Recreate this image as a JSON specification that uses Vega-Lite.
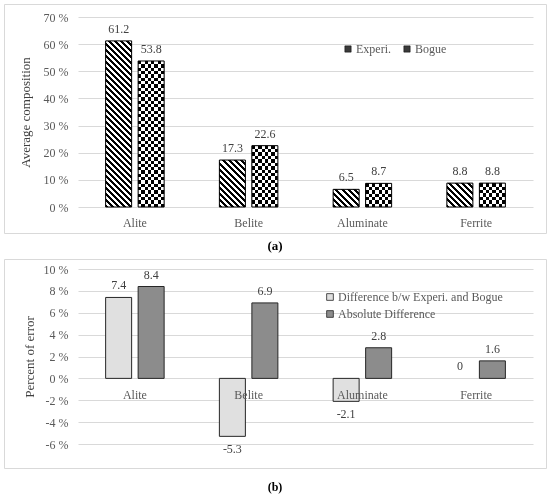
{
"$schema":"https://vega.github.io/schema/vega-lite/v6.json",
"padding":{"left":3,"top":3,"right":5,"bottom":0},
"spacing":4,
"resolve":{"scale":{"xOffset":"independent","fill":"independent","y":"independent"},"legend":{"fill":"independent"}},
"datasets":{
"comp":[
{"mineral":"Alite","series":"Experi.","value":61.2},
{"mineral":"Alite","series":"Bogue","value":53.8},
{"mineral":"Belite","series":"Experi.","value":17.3},
{"mineral":"Belite","series":"Bogue","value":22.6},
{"mineral":"Aluminate","series":"Experi.","value":6.5},
{"mineral":"Aluminate","series":"Bogue","value":8.7},
{"mineral":"Ferrite","series":"Experi.","value":8.8},
{"mineral":"Ferrite","series":"Bogue","value":8.8}
],
"err":[
{"mineral":"Alite","series":"Difference b/w Experi. and Bogue","value":7.4},
{"mineral":"Alite","series":"Absolute Difference","value":8.4},
{"mineral":"Belite","series":"Difference b/w Experi. and Bogue","value":-5.3},
{"mineral":"Belite","series":"Absolute Difference","value":6.9},
{"mineral":"Aluminate","series":"Difference b/w Experi. and Bogue","value":-2.1},
{"mineral":"Aluminate","series":"Absolute Difference","value":2.8},
{"mineral":"Ferrite","series":"Difference b/w Experi. and Bogue","value":0},
{"mineral":"Ferrite","series":"Absolute Difference","value":1.6}
]
},
"vconcat":[
{
"width":542,"height":229,
"data":{"name":"comp"},
"title":{"text":"(a)","orient":"bottom","offset":7,"fontSize":13,"font":"Liberation Serif","fontWeight":"bold","color":"#000000","anchor":"middle"},
"encoding":{
"x":{"field":"mineral","type":"nominal","scale":{"domain":["Alite","Belite","Aluminate","Ferrite"],"range":[74,529],"paddingInner":0,"paddingOuter":0},"axis":{"title":null,"offset":-26,"labelPadding":10,"domain":false,"ticks":false,"labelAngle":0}},
"xOffset":{"field":"series","type":"nominal","scale":{"domain":["Experi.","Bogue"],"paddingInner":0.2,"paddingOuter":0.85}},
"y":{"field":"value","type":"quantitative","scale":{"domain":[0,70],"range":[203,13],"nice":false},"axis":{"title":"Average composition","values":[0,10,20,30,40,50,60,70],"labelExpr":"datum.value + ' %'","grid":true,"domain":false,"ticks":false,"offset":-74,"labelPadding":10,"titlePadding":11}}
},
"layer":[
{"mark":{"type":"bar"},"encoding":{"fill":{"field":"series","type":"nominal","scale":{"domain":["Experi.","Bogue"],"range":["#3a3a3a","#3a3a3a"]},"legend":{"title":null,"orient":"none","legendX":338,"legendY":39,"direction":"horizontal","symbolType":"square","symbolSize":40,"columnPadding":10,"labelOffset":2,"symbolStrokeColor":"#000000","symbolStrokeWidth":0.5}}}},
{"transform":[{"filter":"datum.series==='Experi.' && datum.mineral==='Alite'"}],
"mark":{"type":"bar","fill":{"gradient":"linear","x1":0,"y1":1,"x2":0.1767,"y2":-0.1289,"stops":[
{"offset":0,"color":"#000"},{"offset":0.0156,"color":"#000"},{"offset":0.0156,"color":"#fff"},{"offset":0.0313,"color":"#fff"},{"offset":0.0313,"color":"#000"},{"offset":0.0469,"color":"#000"},{"offset":0.0469,"color":"#fff"},{"offset":0.0625,"color":"#fff"},{"offset":0.0625,"color":"#000"},{"offset":0.0781,"color":"#000"},{"offset":0.0781,"color":"#fff"},{"offset":0.0938,"color":"#fff"},{"offset":0.0938,"color":"#000"},{"offset":0.1094,"color":"#000"},{"offset":0.1094,"color":"#fff"},{"offset":0.125,"color":"#fff"},{"offset":0.125,"color":"#000"},{"offset":0.1406,"color":"#000"},{"offset":0.1406,"color":"#fff"},{"offset":0.1563,"color":"#fff"},{"offset":0.1563,"color":"#000"},{"offset":0.1719,"color":"#000"},{"offset":0.1719,"color":"#fff"},{"offset":0.1875,"color":"#fff"},{"offset":0.1875,"color":"#000"},{"offset":0.2031,"color":"#000"},{"offset":0.2031,"color":"#fff"},{"offset":0.2188,"color":"#fff"},{"offset":0.2188,"color":"#000"},{"offset":0.2344,"color":"#000"},{"offset":0.2344,"color":"#fff"},{"offset":0.25,"color":"#fff"},{"offset":0.25,"color":"#000"},{"offset":0.2656,"color":"#000"},{"offset":0.2656,"color":"#fff"},{"offset":0.2813,"color":"#fff"},{"offset":0.2813,"color":"#000"},{"offset":0.2969,"color":"#000"},{"offset":0.2969,"color":"#fff"},{"offset":0.3125,"color":"#fff"},{"offset":0.3125,"color":"#000"},{"offset":0.3281,"color":"#000"},{"offset":0.3281,"color":"#fff"},{"offset":0.3438,"color":"#fff"},{"offset":0.3438,"color":"#000"},{"offset":0.3594,"color":"#000"},{"offset":0.3594,"color":"#fff"},{"offset":0.375,"color":"#fff"},{"offset":0.375,"color":"#000"},{"offset":0.3906,"color":"#000"},{"offset":0.3906,"color":"#fff"},{"offset":0.4063,"color":"#fff"},{"offset":0.4063,"color":"#000"},{"offset":0.4219,"color":"#000"},{"offset":0.4219,"color":"#fff"},{"offset":0.4375,"color":"#fff"},{"offset":0.4375,"color":"#000"},{"offset":0.4531,"color":"#000"},{"offset":0.4531,"color":"#fff"},{"offset":0.4688,"color":"#fff"},{"offset":0.4688,"color":"#000"},{"offset":0.4844,"color":"#000"},{"offset":0.4844,"color":"#fff"},{"offset":0.5,"color":"#fff"},{"offset":0.5,"color":"#000"},{"offset":0.5156,"color":"#000"},{"offset":0.5156,"color":"#fff"},{"offset":0.5313,"color":"#fff"},{"offset":0.5313,"color":"#000"},{"offset":0.5469,"color":"#000"},{"offset":0.5469,"color":"#fff"},{"offset":0.5625,"color":"#fff"},{"offset":0.5625,"color":"#000"},{"offset":0.5781,"color":"#000"},{"offset":0.5781,"color":"#fff"},{"offset":0.5938,"color":"#fff"},{"offset":0.5938,"color":"#000"},{"offset":0.6094,"color":"#000"},{"offset":0.6094,"color":"#fff"},{"offset":0.625,"color":"#fff"},{"offset":0.625,"color":"#000"},{"offset":0.6406,"color":"#000"},{"offset":0.6406,"color":"#fff"},{"offset":0.6563,"color":"#fff"},{"offset":0.6563,"color":"#000"},{"offset":0.6719,"color":"#000"},{"offset":0.6719,"color":"#fff"},{"offset":0.6875,"color":"#fff"},{"offset":0.6875,"color":"#000"},{"offset":0.7031,"color":"#000"},{"offset":0.7031,"color":"#fff"},{"offset":0.7188,"color":"#fff"},{"offset":0.7188,"color":"#000"},{"offset":0.7344,"color":"#000"},{"offset":0.7344,"color":"#fff"},{"offset":0.75,"color":"#fff"},{"offset":0.75,"color":"#000"},{"offset":0.7656,"color":"#000"},{"offset":0.7656,"color":"#fff"},{"offset":0.7813,"color":"#fff"},{"offset":0.7813,"color":"#000"},{"offset":0.7969,"color":"#000"},{"offset":0.7969,"color":"#fff"},{"offset":0.8125,"color":"#fff"},{"offset":0.8125,"color":"#000"},{"offset":0.8281,"color":"#000"},{"offset":0.8281,"color":"#fff"},{"offset":0.8438,"color":"#fff"},{"offset":0.8438,"color":"#000"},{"offset":0.8594,"color":"#000"},{"offset":0.8594,"color":"#fff"},{"offset":0.875,"color":"#fff"},{"offset":0.875,"color":"#000"},{"offset":0.8906,"color":"#000"},{"offset":0.8906,"color":"#fff"},{"offset":0.9063,"color":"#fff"},{"offset":0.9063,"color":"#000"},{"offset":0.9219,"color":"#000"},{"offset":0.9219,"color":"#fff"},{"offset":0.9375,"color":"#fff"},{"offset":0.9375,"color":"#000"},{"offset":0.9531,"color":"#000"},{"offset":0.9531,"color":"#fff"},{"offset":0.9688,"color":"#fff"},{"offset":0.9688,"color":"#000"},{"offset":0.9844,"color":"#000"},{"offset":0.9844,"color":"#fff"},{"offset":1,"color":"#fff"}]}}},
{"transform":[{"filter":"datum.series==='Experi.' && datum.mineral==='Belite'"}],
"mark":{"type":"bar","fill":{"gradient":"linear","x1":0,"y1":1,"x2":0.6584,"y2":-0.1892,"stops":[
{"offset":0,"color":"#000"},{"offset":0.0417,"color":"#000"},{"offset":0.0417,"color":"#fff"},{"offset":0.0833,"color":"#fff"},{"offset":0.0833,"color":"#000"},{"offset":0.125,"color":"#000"},{"offset":0.125,"color":"#fff"},{"offset":0.1667,"color":"#fff"},{"offset":0.1667,"color":"#000"},{"offset":0.2083,"color":"#000"},{"offset":0.2083,"color":"#fff"},{"offset":0.25,"color":"#fff"},{"offset":0.25,"color":"#000"},{"offset":0.2917,"color":"#000"},{"offset":0.2917,"color":"#fff"},{"offset":0.3333,"color":"#fff"},{"offset":0.3333,"color":"#000"},{"offset":0.375,"color":"#000"},{"offset":0.375,"color":"#fff"},{"offset":0.4167,"color":"#fff"},{"offset":0.4167,"color":"#000"},{"offset":0.4583,"color":"#000"},{"offset":0.4583,"color":"#fff"},{"offset":0.5,"color":"#fff"},{"offset":0.5,"color":"#000"},{"offset":0.5417,"color":"#000"},{"offset":0.5417,"color":"#fff"},{"offset":0.5833,"color":"#fff"},{"offset":0.5833,"color":"#000"},{"offset":0.625,"color":"#000"},{"offset":0.625,"color":"#fff"},{"offset":0.6667,"color":"#fff"},{"offset":0.6667,"color":"#000"},{"offset":0.7083,"color":"#000"},{"offset":0.7083,"color":"#fff"},{"offset":0.75,"color":"#fff"},{"offset":0.75,"color":"#000"},{"offset":0.7917,"color":"#000"},{"offset":0.7917,"color":"#fff"},{"offset":0.8333,"color":"#fff"},{"offset":0.8333,"color":"#000"},{"offset":0.875,"color":"#000"},{"offset":0.875,"color":"#fff"},{"offset":0.9167,"color":"#fff"},{"offset":0.9167,"color":"#000"},{"offset":0.9583,"color":"#000"},{"offset":0.9583,"color":"#fff"},{"offset":1,"color":"#fff"}]}}},
{"transform":[{"filter":"datum.series==='Experi.' && datum.mineral==='Aluminate'"}],
"mark":{"type":"bar","fill":{"gradient":"linear","x1":0,"y1":1,"x2":1.1494,"y2":0.2202,"stops":[
{"offset":0,"color":"#000"},{"offset":0.0714,"color":"#000"},{"offset":0.0714,"color":"#fff"},{"offset":0.1429,"color":"#fff"},{"offset":0.1429,"color":"#000"},{"offset":0.2143,"color":"#000"},{"offset":0.2143,"color":"#fff"},{"offset":0.2857,"color":"#fff"},{"offset":0.2857,"color":"#000"},{"offset":0.3571,"color":"#000"},{"offset":0.3571,"color":"#fff"},{"offset":0.4286,"color":"#fff"},{"offset":0.4286,"color":"#000"},{"offset":0.5,"color":"#000"},{"offset":0.5,"color":"#fff"},{"offset":0.5714,"color":"#fff"},{"offset":0.5714,"color":"#000"},{"offset":0.6429,"color":"#000"},{"offset":0.6429,"color":"#fff"},{"offset":0.7143,"color":"#fff"},{"offset":0.7143,"color":"#000"},{"offset":0.7857,"color":"#000"},{"offset":0.7857,"color":"#fff"},{"offset":0.8571,"color":"#fff"},{"offset":0.8571,"color":"#000"},{"offset":0.9286,"color":"#000"},{"offset":0.9286,"color":"#fff"},{"offset":1,"color":"#fff"}]}}},
{"transform":[{"filter":"datum.series==='Experi.' && datum.mineral==='Ferrite'"}],
"mark":{"type":"bar","fill":{"gradient":"linear","x1":0,"y1":1,"x2":1.0404,"y2":0.044,"stops":[
{"offset":0,"color":"#000"},{"offset":0.0625,"color":"#000"},{"offset":0.0625,"color":"#fff"},{"offset":0.125,"color":"#fff"},{"offset":0.125,"color":"#000"},{"offset":0.1875,"color":"#000"},{"offset":0.1875,"color":"#fff"},{"offset":0.25,"color":"#fff"},{"offset":0.25,"color":"#000"},{"offset":0.3125,"color":"#000"},{"offset":0.3125,"color":"#fff"},{"offset":0.375,"color":"#fff"},{"offset":0.375,"color":"#000"},{"offset":0.4375,"color":"#000"},{"offset":0.4375,"color":"#fff"},{"offset":0.5,"color":"#fff"},{"offset":0.5,"color":"#000"},{"offset":0.5625,"color":"#000"},{"offset":0.5625,"color":"#fff"},{"offset":0.625,"color":"#fff"},{"offset":0.625,"color":"#000"},{"offset":0.6875,"color":"#000"},{"offset":0.6875,"color":"#fff"},{"offset":0.75,"color":"#fff"},{"offset":0.75,"color":"#000"},{"offset":0.8125,"color":"#000"},{"offset":0.8125,"color":"#fff"},{"offset":0.875,"color":"#fff"},{"offset":0.875,"color":"#000"},{"offset":0.9375,"color":"#000"},{"offset":0.9375,"color":"#fff"},{"offset":1,"color":"#fff"}]}}},
{"transform":[{"filter":"datum.series==='Bogue'"}],
"mark":{"type":"bar","fill":{"gradient":"linear","x1":0,"y1":0,"x2":1,"y2":0,"stops":[
{"offset":0,"color":"#000"},{"offset":0.125,"color":"#000"},{"offset":0.125,"color":"#fff"},{"offset":0.25,"color":"#fff"},{"offset":0.25,"color":"#000"},{"offset":0.375,"color":"#000"},{"offset":0.375,"color":"#fff"},{"offset":0.5,"color":"#fff"},{"offset":0.5,"color":"#000"},{"offset":0.625,"color":"#000"},{"offset":0.625,"color":"#fff"},{"offset":0.75,"color":"#fff"},{"offset":0.75,"color":"#000"},{"offset":0.875,"color":"#000"},{"offset":0.875,"color":"#fff"},{"offset":1,"color":"#fff"}]}}},
{"transform":[{"filter":"datum.series==='Bogue' && datum.mineral==='Alite'"}],
"mark":{"type":"bar","blend":"difference","fill":{"gradient":"linear","x1":0,"y1":0,"x2":0,"y2":1,"stops":[
{"offset":0,"color":"#000"},{"offset":0.0227,"color":"#000"},{"offset":0.0227,"color":"#fff"},{"offset":0.0455,"color":"#fff"},{"offset":0.0455,"color":"#000"},{"offset":0.0682,"color":"#000"},{"offset":0.0682,"color":"#fff"},{"offset":0.0909,"color":"#fff"},{"offset":0.0909,"color":"#000"},{"offset":0.1136,"color":"#000"},{"offset":0.1136,"color":"#fff"},{"offset":0.1364,"color":"#fff"},{"offset":0.1364,"color":"#000"},{"offset":0.1591,"color":"#000"},{"offset":0.1591,"color":"#fff"},{"offset":0.1818,"color":"#fff"},{"offset":0.1818,"color":"#000"},{"offset":0.2045,"color":"#000"},{"offset":0.2045,"color":"#fff"},{"offset":0.2273,"color":"#fff"},{"offset":0.2273,"color":"#000"},{"offset":0.25,"color":"#000"},{"offset":0.25,"color":"#fff"},{"offset":0.2727,"color":"#fff"},{"offset":0.2727,"color":"#000"},{"offset":0.2955,"color":"#000"},{"offset":0.2955,"color":"#fff"},{"offset":0.3182,"color":"#fff"},{"offset":0.3182,"color":"#000"},{"offset":0.3409,"color":"#000"},{"offset":0.3409,"color":"#fff"},{"offset":0.3636,"color":"#fff"},{"offset":0.3636,"color":"#000"},{"offset":0.3864,"color":"#000"},{"offset":0.3864,"color":"#fff"},{"offset":0.4091,"color":"#fff"},{"offset":0.4091,"color":"#000"},{"offset":0.4318,"color":"#000"},{"offset":0.4318,"color":"#fff"},{"offset":0.4545,"color":"#fff"},{"offset":0.4545,"color":"#000"},{"offset":0.4773,"color":"#000"},{"offset":0.4773,"color":"#fff"},{"offset":0.5,"color":"#fff"},{"offset":0.5,"color":"#000"},{"offset":0.5227,"color":"#000"},{"offset":0.5227,"color":"#fff"},{"offset":0.5455,"color":"#fff"},{"offset":0.5455,"color":"#000"},{"offset":0.5682,"color":"#000"},{"offset":0.5682,"color":"#fff"},{"offset":0.5909,"color":"#fff"},{"offset":0.5909,"color":"#000"},{"offset":0.6136,"color":"#000"},{"offset":0.6136,"color":"#fff"},{"offset":0.6364,"color":"#fff"},{"offset":0.6364,"color":"#000"},{"offset":0.6591,"color":"#000"},{"offset":0.6591,"color":"#fff"},{"offset":0.6818,"color":"#fff"},{"offset":0.6818,"color":"#000"},{"offset":0.7045,"color":"#000"},{"offset":0.7045,"color":"#fff"},{"offset":0.7273,"color":"#fff"},{"offset":0.7273,"color":"#000"},{"offset":0.75,"color":"#000"},{"offset":0.75,"color":"#fff"},{"offset":0.7727,"color":"#fff"},{"offset":0.7727,"color":"#000"},{"offset":0.7955,"color":"#000"},{"offset":0.7955,"color":"#fff"},{"offset":0.8182,"color":"#fff"},{"offset":0.8182,"color":"#000"},{"offset":0.8409,"color":"#000"},{"offset":0.8409,"color":"#fff"},{"offset":0.8636,"color":"#fff"},{"offset":0.8636,"color":"#000"},{"offset":0.8864,"color":"#000"},{"offset":0.8864,"color":"#fff"},{"offset":0.9091,"color":"#fff"},{"offset":0.9091,"color":"#000"},{"offset":0.9318,"color":"#000"},{"offset":0.9318,"color":"#fff"},{"offset":0.9545,"color":"#fff"},{"offset":0.9545,"color":"#000"},{"offset":0.9773,"color":"#000"},{"offset":0.9773,"color":"#fff"},{"offset":1,"color":"#fff"}]}}},
{"transform":[{"filter":"datum.series==='Bogue' && datum.mineral==='Belite'"}],
"mark":{"type":"bar","blend":"difference","fill":{"gradient":"linear","x1":0,"y1":0,"x2":0,"y2":1,"stops":[
{"offset":0,"color":"#000"},{"offset":0.0556,"color":"#000"},{"offset":0.0556,"color":"#fff"},{"offset":0.1111,"color":"#fff"},{"offset":0.1111,"color":"#000"},{"offset":0.1667,"color":"#000"},{"offset":0.1667,"color":"#fff"},{"offset":0.2222,"color":"#fff"},{"offset":0.2222,"color":"#000"},{"offset":0.2778,"color":"#000"},{"offset":0.2778,"color":"#fff"},{"offset":0.3333,"color":"#fff"},{"offset":0.3333,"color":"#000"},{"offset":0.3889,"color":"#000"},{"offset":0.3889,"color":"#fff"},{"offset":0.4444,"color":"#fff"},{"offset":0.4444,"color":"#000"},{"offset":0.5,"color":"#000"},{"offset":0.5,"color":"#fff"},{"offset":0.5556,"color":"#fff"},{"offset":0.5556,"color":"#000"},{"offset":0.6111,"color":"#000"},{"offset":0.6111,"color":"#fff"},{"offset":0.6667,"color":"#fff"},{"offset":0.6667,"color":"#000"},{"offset":0.7222,"color":"#000"},{"offset":0.7222,"color":"#fff"},{"offset":0.7778,"color":"#fff"},{"offset":0.7778,"color":"#000"},{"offset":0.8333,"color":"#000"},{"offset":0.8333,"color":"#fff"},{"offset":0.8889,"color":"#fff"},{"offset":0.8889,"color":"#000"},{"offset":0.9444,"color":"#000"},{"offset":0.9444,"color":"#fff"},{"offset":1,"color":"#fff"}]}}},
{"transform":[{"filter":"datum.series==='Bogue' && (datum.mineral==='Aluminate' || datum.mineral==='Ferrite')"}],
"mark":{"type":"bar","blend":"difference","fill":{"gradient":"linear","x1":0,"y1":0,"x2":0,"y2":1,"stops":[
{"offset":0,"color":"#000"},{"offset":0.1429,"color":"#000"},{"offset":0.1429,"color":"#fff"},{"offset":0.2857,"color":"#fff"},{"offset":0.2857,"color":"#000"},{"offset":0.4286,"color":"#000"},{"offset":0.4286,"color":"#fff"},{"offset":0.5714,"color":"#fff"},{"offset":0.5714,"color":"#000"},{"offset":0.7143,"color":"#000"},{"offset":0.7143,"color":"#fff"},{"offset":0.8571,"color":"#fff"},{"offset":0.8571,"color":"#000"},{"offset":1,"color":"#000"}]}}},
{"mark":{"type":"bar","fill":"transparent","stroke":"#000000","strokeWidth":1}},
{"mark":{"type":"text","dy":-8,"baseline":"alphabetic","fontSize":12,"font":"Liberation Serif","color":"#404040"},"encoding":{"text":{"field":"value","type":"quantitative","format":".1f"}}}
]
},
{
"width":542,"height":209,
"data":{"name":"err"},
"title":{"text":"(b)","orient":"bottom","offset":14,"fontSize":12,"font":"Liberation Serif","fontWeight":"bold","color":"#000000","anchor":"middle"},
"encoding":{
"x":{"field":"mineral","type":"nominal","scale":{"domain":["Alite","Belite","Aluminate","Ferrite"],"range":[74,529],"paddingInner":0,"paddingOuter":0},"axis":{"title":null,"offset":-89,"labelPadding":10,"domain":false,"ticks":false,"labelAngle":0,"zindex":1}},
"xOffset":{"field":"series","type":"nominal","scale":{"domain":["Difference b/w Experi. and Bogue","Absolute Difference"],"paddingInner":0.2,"paddingOuter":0.85}},
"y":{"field":"value","type":"quantitative","scale":{"domain":[-6,10],"range":[185,10],"nice":false},"axis":{"title":"Percent of error","values":[-6,-4,-2,0,2,4,6,8,10],"labelExpr":"datum.value + ' %'","grid":true,"domain":false,"ticks":false,"offset":-74,"labelPadding":10,"titlePadding":7}}
},
"layer":[
{"transform":[{"filter":"datum.value !== 0"}],"mark":{"type":"bar","stroke":"#262626","strokeWidth":1},"encoding":{"fill":{"field":"series","type":"nominal","scale":{"domain":["Difference b/w Experi. and Bogue","Absolute Difference"],"range":["#e0e0e0","#8c8c8c"]},"legend":{"title":null,"orient":"none","legendX":320,"legendY":32,"direction":"vertical","symbolType":"square","symbolSize":45,"rowPadding":5,"labelOffset":2,"labelLimit":0,"symbolStrokeColor":"#262626","symbolStrokeWidth":0.8}}}},
{"transform":[{"filter":"datum.value >= 0"}],"mark":{"type":"text","dy":-8,"baseline":"alphabetic","fontSize":12,"font":"Liberation Serif","color":"#404040"},"encoding":{"text":{"field":"value","type":"nominal"}}},
{"transform":[{"filter":"datum.value < 0"}],"mark":{"type":"text","dy":8,"baseline":"top","fontSize":12,"font":"Liberation Serif","color":"#404040"},"encoding":{"text":{"field":"value","type":"nominal"}}}
]
}
],
"config":{
"view":{"stroke":"#d9d9d9","strokeWidth":1},
"font":"Liberation Serif",
"axis":{"labelFont":"Liberation Serif","labelFontSize":12,"labelColor":"#595959","gridColor":"#d9d9d9","gridWidth":1,"titleFont":"Liberation Serif","titleFontSize":13,"titleFontWeight":"normal","titleColor":"#404040"},
"legend":{"labelFont":"Liberation Serif","labelFontSize":12,"labelColor":"#595959"}
}
}
